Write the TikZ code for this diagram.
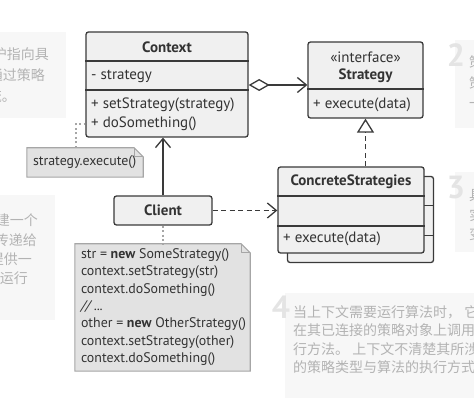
\documentclass[tikz,border=0pt]{standalone}
\usepackage{fontspec}
\setmainfont{PT Sans}
\newfontfamily\cjk{Noto Sans CJK SC}
\usetikzlibrary{arrows.meta,backgrounds}
\definecolor{umlfg}{HTML}{3A3A3A}
\definecolor{umlfill}{HTML}{F0F0F0}
\definecolor{notefill}{HTML}{E2E2E2}
\definecolor{notedraw}{HTML}{A6A6A6}
\definecolor{panelbg}{HTML}{F7F7F7}
\definecolor{paneltext}{HTML}{B3B3B3}
\definecolor{panelnum}{HTML}{E4E4E4}
\definecolor{txt}{HTML}{333333}
\begin{document}
\begin{tikzpicture}[x=1pt,y=-1pt,
  umlbox/.style={draw=umlfg, fill=umlfill, line width=1.3pt, rounded corners=2.5pt, inner sep=0pt},
  umlsep/.style={draw=umlfg, line width=1.3pt},
  umltext/.style={font=\fontsize{15}{17}\selectfont, text=txt, inner sep=0pt},
  umlbold/.style={font=\fontsize{15}{17}\selectfont\bfseries, text=txt, inner sep=0pt},
  umlline/.style={draw=umlfg, line width=1.3pt},
  umldash/.style={dash pattern=on 5pt off 3.5pt},
  openv/.style={-{Straight Barb[length=9pt,width=15pt]}},
  notebox/.style={inner sep=0pt},
  notetext/.style={inner sep=0pt, align=left, text=txt, font=\fontsize{13.9}{17.3}\selectfont},
  noteshape/.style={fill=notefill, draw=notedraw, line width=1.1pt},
  notelink/.style={draw=notedraw, line width=1.1pt, dash pattern=on 2pt off 2.5pt},
  cjktext/.style={font=\cjk\fontsize{14}{16}\selectfont, text=paneltext, inner sep=0pt},
  numtext/.style={font=\fontsize{32}{32}\selectfont\bfseries, text=panelnum, inner sep=0pt}
]
\useasboundingbox (0,0) rectangle (474,411);
\clip (0,0) rectangle (474,411);
% faint background panels
\fill[panelbg] (0,32) rectangle (66,118);
\fill[panelbg] (0,195) rectangle (55,320);
\fill[panelbg] (455,40) rectangle (474,128);
\fill[panelbg] (455,172) rectangle (474,252);
\fill[panelbg] (285,293) rectangle (474,398);
% panel texts (cut by the picture's edge, as in the reference)
\node[cjktext, anchor=east] (p1a) at (49,55) {上下文 (Context) 维护指向具};
\node[cjktext, anchor=east] (p1b) at (45,75) {体策略的引用， 且仅通过策略};
\node[cjktext, anchor=east] (p1c) at (16,96) {接口与该对象进行交流。};
\node[cjktext, anchor=east] (p5a) at (38,221) {客户端 (Client) 会创建一个};
\node[cjktext, anchor=east] (p5b) at (37,240) {特定策略对象并将其传递给};
\node[cjktext, anchor=east] (p5c) at (32,259) {上下文。 上下文则会提供一};
\node[cjktext, anchor=east] (p5d) at (28,278) {个设置器以便客户端在运行};
\node[numtext] (n2) at (456,55) {2};
\node[cjktext, anchor=west] (p2a) at (469,63) {策略 (Strategy) 接口是所有具体};
\node[cjktext, anchor=west] (p2b) at (469,83) {策略的通用接口， 它声明了};
\node[cjktext, anchor=west] (p2c) at (469,103) {一个上下文用于执行策略的方法。};
\node[numtext] (n3) at (456,188) {3};
\node[cjktext, anchor=west] (p3a) at (469,196) {具体策略 (Concrete Strategies)};
\node[cjktext, anchor=west] (p3b) at (469,215) {实现了上下文所用算法的各种};
\node[cjktext, anchor=west] (p3c) at (469,234) {变体。};
\node[numtext] (n4) at (281,307) {4};
\node[cjktext, anchor=west] (p4a) at (293,312) {当上下文需要运行算法时， 它会};
\node[cjktext, anchor=west] (p4b) at (293,330) {在其已连接的策略对象上调用执};
\node[cjktext, anchor=west] (p4c) at (293,349) {行方法。 上下文不清楚其所涉及};
\node[cjktext, anchor=west] (p4d) at (293,367) {的策略类型与算法的执行方式。};
% Context
\node[umlbox, minimum width=162pt, minimum height=105pt] (context) at (167,84.5) {};
\draw[umlsep] (context.west |- 0,61) -- (context.east |- 0,61);
\draw[umlsep] (context.west |- 0,90) -- (context.east |- 0,90);
\node[umlbold] (ctxname) at (167,47) {Context};
\node[umltext, anchor=west] (ctxattr) at (91,76) {- strategy};
\node[umltext, anchor=west] (ctxm1) at (91,105) {+ setStrategy(strategy)};
\node[umltext, anchor=west] (ctxm2) at (91,124) {+ doSomething()};
% Strategy
\node[umlbox, minimum width=115pt, minimum height=76pt] (strategy) at (365.5,80) {};
\draw[umlsep] (strategy.west |- 0,89) -- (strategy.east |- 0,89);
\node[umltext] (stereo) at (365.5,57) {«interface»};
\node[umlbold] (stratname) at (365.5,76) {Strategy};
\node[umltext, anchor=west] (stratm) at (313,105) {+ execute(data)};
% ConcreteStrategies
\node[umlbox, minimum width=146pt, minimum height=86pt] (concreteback) at (360.5,219.5) {};
\draw[umlsep] (concreteback.west |- 0,205.5) -- (concreteback.east |- 0,205.5);
\draw[umlsep] (concreteback.west |- 0,235.5) -- (concreteback.east |- 0,235.5);
\node[umlbox, minimum width=146pt, minimum height=86pt] (concrete) at (351,210) {};
\draw[umlsep] (concrete.west |- 0,196) -- (concrete.east |- 0,196);
\draw[umlsep] (concrete.west |- 0,226) -- (concrete.east |- 0,226);
\node[umlbold] (concname) at (351,182) {ConcreteStrategies};
\node[umltext, anchor=west] (concm) at (283,239) {+ execute(data)};
% Client
\node[umlbox, minimum width=98pt, minimum height=29pt] (client) at (163,210.5) {};
\node[umlbold] (clientname) at (163,210) {Client};
% Notes
\node[notebox, minimum width=116pt, minimum height=29pt] (execnote) at (85,162.5) {};
\node[notebox, minimum width=175pt, minimum height=127pt] (codenote) at (162.5,307.5) {};
\foreach \n in {execnote,codenote}{
  \filldraw[noteshape] (\n.south west) -- (\n.north west) -- ([xshift=-9pt]\n.north east) -- ([yshift=-9pt]\n.north east) -- (\n.south east) -- cycle;
  \draw[noteshape, fill=none, line join=round] ([xshift=-9pt]\n.north east) -- ([xshift=-9pt,yshift=-9pt]\n.north east) -- ([yshift=-9pt]\n.north east);
}
\node[notetext, anchor=west] (exectext) at ([xshift=6pt]execnote.west) {strategy.execute()};
\node[notetext, anchor=west] (codetext) at ([xshift=6pt,yshift=0.5pt]codenote.west) {str = \textbf{new} SomeStrategy()\\
context.setStrategy(str)\\
context.doSomething()\\
\textit{// ...}\\
other = \textbf{new} OtherStrategy()\\
context.setStrategy(other)\\
context.doSomething()};
% Connectors
\draw[umlline, {Diamond[open, length=21pt, width=12pt]}-{Straight Barb[length=9pt,width=15pt]}] (context.east |- 0,85) -- (strategy.west |- 0,85);
\draw[umlline, umldash, -{Triangle[open, length=14pt, width=17pt]}] (concrete.north -| strategy.south) -- (strategy.south);
\draw[umlline, openv] (client.north) -- (client.north |- context.south);
\draw[umlline, umldash, openv] (client.east) -- (client.east -| concrete.west);
\draw[notelink] (client.south) -- (client.south |- codenote.north);
\coordinate (execbend) at (76,124);
\draw[notelink] (execnote.north -| execbend) -- (execbend) -- (execbend -| context.west);
\end{tikzpicture}
\end{document}
